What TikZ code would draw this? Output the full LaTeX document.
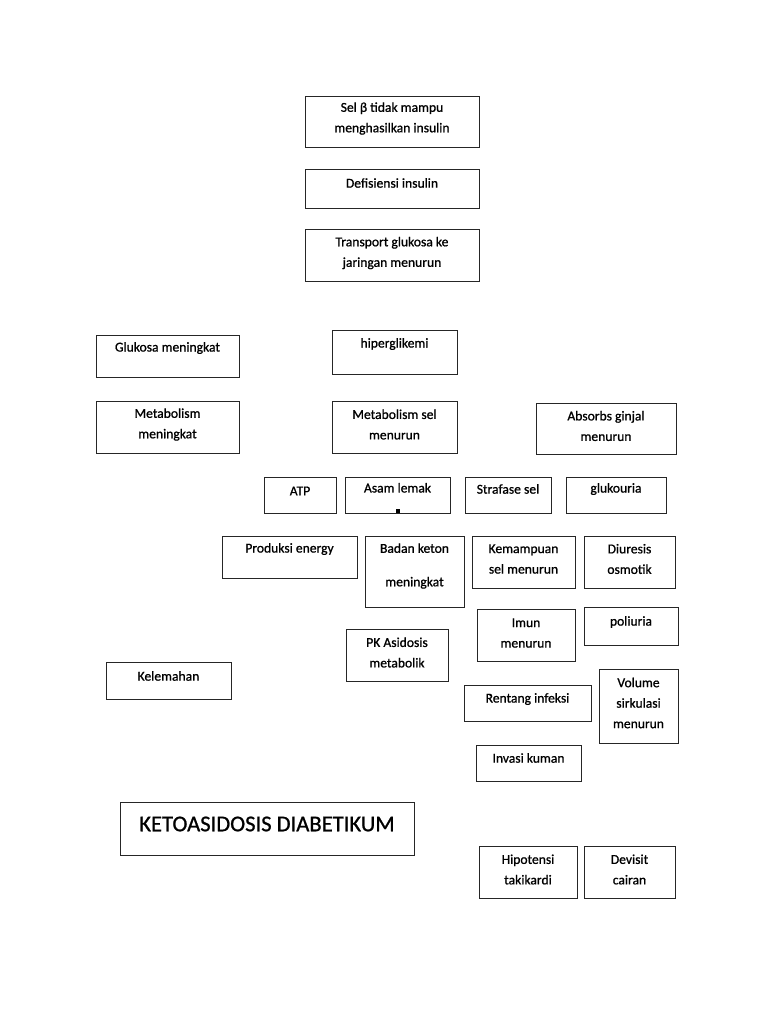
\documentclass[tikz,border=0pt]{standalone}
\usepackage{fontspec}
\setmainfont{Carlito}[FakeBold=0.9]
\tikzset{
  box/.style={draw=black!85, line width=0.9pt, rectangle, inner sep=0pt, fill=none},
  txt/.style={inner sep=0pt, align=center, font=\fontsize{13.6}{20.5}\selectfont, text=black},
  bigtxt/.style={inner sep=0pt, align=center, font=\fontsize{22.6}{26}\selectfont, text=black}
}
\newcommand\bx[8][txt]{%
  \node[box, minimum width={(#5-#3)*1pt}, minimum height={(#6-#4)*1pt}] (#2) at ({(#3+#5)/2*1pt},{-(#4+#6)/2*1pt}) {};
  \node[#1] (#2t) at ({(#3+#5)/2*1pt},{-#7*1pt}) {#8};}
\begin{document}
\begin{tikzpicture}
\fill[white] (0,0) rectangle (768pt,-1024pt);
\useasboundingbox (0,0) rectangle (768pt,-1024pt);
\bx{sel}{305}{96}{479}{147}{118.5}{Sel β tidak mampu\\menghasilkan insulin}
\bx{def}{305}{169}{479}{208}{183}{Defisiensi insulin}
\bx{trans}{305}{229}{479}{281}{253}{Transport glukosa ke\\jaringan menurun}
\bx{gluk}{96}{335}{239}{377}{348}{Glukosa meningkat}
\bx{hiper}{332}{330}{457}{374}{344}{hiperglikemi}
\bx{metm}{96}{401}{239}{453}{424.5}{Metabolism\\meningkat}
\bx{mets}{332}{401}{457}{453}{424.5}{Metabolism sel\\menurun}
\bx{abs}{536}{403}{676}{454}{426}{Absorbs ginjal\\menurun}
\bx{atp}{264}{477}{336}{513}{491}{ATP}
\bx{asam}{345}{477}{450}{513}{498}{Asam lemak\\\rule{4pt}{4pt}}
\bx{stra}{465}{477}{551}{513}{489}{Strafase sel}
\bx{glku}{566}{477}{666}{513}{489}{glukouria}
\bx{prod}{222}{536}{357}{578}{549}{Produksi energy}
\bx{badan}{365}{536}{464}{607}{566}{Badan keton\\[13pt]meningkat}
\bx{kem}{472}{536}{575}{588}{559}{Kemampuan\\sel menurun}
\bx{diu}{584}{536}{675}{588}{559}{Diuresis\\osmotik}
\bx{imun}{477}{609}{575}{661}{633}{Imun\\menurun}
\bx{poli}{584}{607}{678}{645}{622}{poliuria}
\bx{pk}{346}{629}{448}{681}{652.5}{PK Asidosis\\metabolik}
\bx{kel}{106}{662}{231}{699}{676}{Kelemahan}
\bx{rent}{464}{685}{591}{721}{699}{Rentang infeksi}
\bx{vol}{599}{669}{678}{743}{703}{Volume\\sirkulasi\\menurun}
\bx{inv}{476}{745}{581}{781}{758}{Invasi kuman}
\bx[bigtxt]{keto}{120}{802}{414}{855}{824}{KETOASIDOSIS DIABETIKUM}
\bx{hipo}{479}{846}{577}{898}{869.5}{Hipotensi\\takikardi}
\bx{dev}{584}{846}{675}{898}{869.5}{Devisit\\cairan}
\end{tikzpicture}
\end{document}
